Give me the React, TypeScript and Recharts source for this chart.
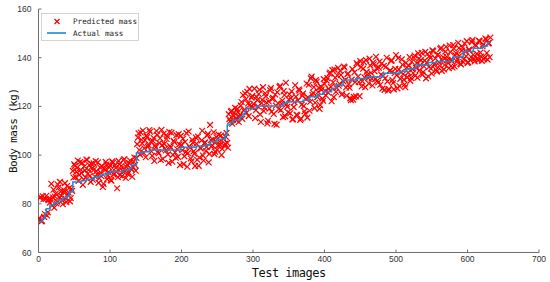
import React from 'react';
import {
  ComposedChart,
  Scatter,
  XAxis,
  YAxis,
} from 'recharts';

// x axis ticks (test image index) and y axis ticks (kg)
const xTicks = [0, 100, 200, 300, 400, 500, 600, 700];
const yTicks = [60, 80, 100, 120, 140, 160];

// actual mass is a staircase: image index where a step starts + its value
const actualStart = [
  0, 5, 9, 11, 16, 22, 28, 34, 39, 43, 48, 60, 67, 78, 86, 95, 100, 118, 128, 130,
  137, 145, 155, 199, 221, 235, 240, 249, 261, 264, 268, 272, 282, 286, 289, 291, 305, 342, 347, 370,
  379, 390, 398, 410, 417, 426, 445, 459, 482, 505, 515, 528, 545, 556, 580, 594, 608, 621, 628, 633,
];
const actualMass = [
  72.6, 74, 76, 78, 79.5, 80.5, 81.6, 82.5, 83, 85, 89, 89.5, 90.1, 91, 91.8, 92.5, 93.2, 93.9, 94.6, 95.9,
  101, 101.4, 102.1, 103.2, 103.7, 104.1, 105.5, 106.5, 108.3, 112.4, 113.5, 114.4, 115.8, 117, 118.5, 119.2, 120.2, 121.3, 121.9, 122.5,
  124, 125, 126, 127.5, 128.8, 130.8, 131.5, 132.2, 133.6, 134.3, 135.5, 137, 138, 138.4, 140.4, 142.5, 143.9, 144.8, 146.2, 146.2,
];

// predicted mass for even test images (index 0, 2, 4 ...)
const predictedEven = [
  // 0 - 14
  73.5, 82.5, 72.8, 83.1, 74.6, 82.0, 75.2, 81.5,
  // 16 - 46
  80.5, 88.2, 82.6, 78.4, 84.1, 80.9, 86.7, 89.0, 83.2, 79.8, 85.5, 82.1, 87.3, 84.6, 81.0, 86.2,
  // 48 - 136
  93.5, 96.2, 91.0, 94.8, 89.4, 97.1, 92.6, 87.8, 95.3, 90.7, 98.0, 93.9, 91.5, 96.4, 89.9, 94.2,
  97.5, 92.1, 88.6, 95.0, 91.3, 86.9, 94.5, 97.2, 90.2, 93.0, 95.8, 89.5, 96.9, 92.4, 94.7, 86.4,
  97.6, 91.8, 95.5, 93.3, 98.4, 90.6, 96.0, 92.9, 97.8, 94.1, 95.2, 99.0, 93.6,
  // 138 - 264
  104.5, 108.9, 100.2, 106.3, 110.1, 102.8, 99.1, 107.4, 104.0, 109.6, 101.5, 105.8, 97.6, 103.2, 108.3, 100.7,
  106.9, 110.4, 98.4, 104.6, 101.9, 107.8, 96.8, 103.7, 109.2, 100.1, 105.3, 98.9, 102.4, 108.6, 95.9, 104.2,
  106.7, 99.5, 101.2, 95.2, 109.7, 103.0, 97.4, 105.1, 100.6, 107.2, 98.1, 95.6, 102.9, 106.0, 99.8, 104.9,
  101.7, 108.1, 97.0, 112.4, 103.5, 106.4, 100.4, 105.7, 102.2, 108.4, 104.3, 100.0, 106.8, 103.8, 107.5, 105.0,
  // 266 - 300
  116.8, 113.9, 118.2, 114.5, 117.3, 115.1, 119.0, 113.6, 116.5, 121.8, 124.7, 118.7, 122.9, 126.0, 116.0, 120.8,
  123.6, 119.6,
  // 302 - 400
  127.3, 118.4, 122.6, 125.1, 116.7, 121.4, 127.9, 119.5, 124.2, 113.0, 122.0, 126.6, 117.8, 123.5, 112.8, 120.3,
  125.8, 118.9, 128.4, 121.1, 115.6, 124.7, 129.7, 119.9, 122.8, 117.2, 126.2, 114.8, 121.7, 124.0, 116.3, 127.0,
  114.4, 120.7, 125.3, 118.0, 123.1, 115.4, 128.9, 121.9, 132.2, 125.6, 119.3, 130.8, 123.8, 127.6, 120.5, 126.9,
  122.3, 129.2,
  // 402 - 520
  124.5, 131.6, 127.2, 133.9, 122.1, 129.8, 135.1, 126.0, 132.7, 128.5, 134.6, 124.9, 130.4, 136.0, 127.8, 133.2,
  129.1, 123.3, 131.0, 122.8, 134.0, 124.1, 137.2, 130.0, 138.6, 128.2, 135.5, 131.9, 139.0, 133.0, 129.4, 136.8,
  131.4, 138.0, 134.4, 140.4, 130.6, 135.9, 128.9, 137.6, 132.5, 126.8, 136.3, 130.2, 127.1, 134.8, 138.9, 129.6,
  133.6, 141.1, 127.4, 135.2, 131.3, 139.3, 133.3, 129.0, 137.9, 132.0, 136.6, 130.5,
  // 522 - 632
  138.3, 133.7, 140.9, 135.8, 131.8, 139.6, 136.9, 142.0, 134.1, 138.8, 131.5, 141.5, 136.2, 139.9, 133.5, 142.7,
  137.4, 135.0, 141.0, 138.1, 143.6, 134.6, 140.2, 137.0, 144.5, 139.1, 135.7, 142.3, 138.6, 145.2, 136.4, 141.8,
  139.4, 144.0, 137.5, 142.9, 138.2, 145.8, 140.6, 137.9, 143.3, 139.0, 146.4, 141.2, 138.5, 144.9, 139.8, 147.0,
  142.1, 138.7, 145.5, 140.0, 147.6, 139.2, 146.0, 148.3,
];

// predicted mass for odd test images (index 1, 3, 5 ...)
const predictedOdd = [
  // 1 - 15
  74.2, 82.8, 73.0, 81.9, 75.8, 83.3, 76.5, 82.2,
  // 17 - 47
  81.7, 79.3, 85.8, 83.0, 80.2, 87.9, 82.9, 85.0, 81.4, 84.8, 88.5, 80.7, 83.8, 86.5, 82.4, 85.3,
  // 49 - 137
  90.8, 95.6, 93.2, 97.8, 91.9, 94.0, 96.8, 90.1, 93.7, 98.2, 92.3, 95.9, 89.0, 94.4, 96.6, 91.2,
  93.4, 97.0, 90.5, 92.8, 95.4, 88.2, 93.8, 96.1, 91.6, 94.9, 89.8, 97.4, 92.0, 95.7, 93.1, 90.9,
  96.3, 94.3, 91.4, 97.9, 93.5, 95.1, 92.2, 96.7, 94.6, 91.1, 97.3, 95.9, 98.8,
  // 139 - 265
  107.2, 102.1, 109.3, 104.8, 100.9, 106.1, 108.0, 103.4, 110.3, 105.5, 99.7, 107.0, 103.9, 109.9, 101.3, 105.0,
  98.0, 104.1, 108.8, 102.6, 106.6, 100.3, 109.5, 103.1, 97.3, 105.9, 101.1, 108.2, 99.3, 104.4, 107.9, 102.0,
  96.3, 105.4, 109.0, 100.8, 103.6, 98.6, 106.3, 101.6, 95.5, 104.7, 107.6, 99.0, 102.7, 110.0, 97.8, 105.2,
  103.3, 108.7, 100.5, 106.2, 104.0, 109.4, 101.4, 107.3, 103.9, 105.6, 108.0, 102.5, 106.6, 104.6, 109.1, 103.0,
  // 267 - 301
  114.8, 117.9, 112.9, 116.1, 119.4, 114.2, 117.7, 115.7, 120.3, 114.9, 118.3, 125.3, 117.4, 121.2, 127.2, 119.8,
  124.3, 121.0,
  // 303 - 401
  115.2, 123.9, 120.0, 126.8, 113.6, 122.7, 118.1, 125.4, 121.6, 114.1, 119.1, 127.5, 123.0, 116.9, 124.9, 112.5,
  121.3, 128.0, 118.5, 122.4, 126.3, 115.9, 120.9, 117.6, 125.0, 123.4, 114.6, 119.7, 128.7, 116.6, 122.5, 126.5,
  115.0, 124.4, 120.2, 117.0, 129.4, 123.7, 118.2, 131.5, 124.8, 127.9, 121.5, 130.1, 125.9, 119.0, 128.1, 123.2,
  131.2, 126.4,
  // 403 - 521
  130.6, 125.7, 133.4, 128.0, 134.9, 123.8, 131.8, 127.5, 135.8, 129.3, 132.9, 125.2, 136.4, 130.9, 124.4, 133.5,
  127.7, 122.6, 135.3, 123.9, 129.9, 137.8, 132.3, 124.2, 136.1, 130.3, 138.2, 127.9, 134.2, 131.7, 139.6, 133.8,
  128.6, 137.3, 131.2, 135.7, 129.8, 138.4, 133.1, 127.3, 136.7, 131.6, 140.0, 126.5, 134.5, 138.7, 130.8, 127.0,
  135.4, 132.8, 139.8, 128.3, 134.0, 137.1, 131.0, 127.9, 136.0, 133.9, 140.3, 131.7,
  // 523 - 631
  135.3, 140.1, 132.6, 137.8, 141.8, 134.8, 139.0, 133.0, 136.5, 142.4, 138.0, 132.3, 140.7, 135.5, 143.0, 137.1,
  139.7, 134.3, 141.3, 136.7, 144.1, 138.9, 135.2, 142.5, 140.4, 137.7, 145.0, 139.3, 136.0, 143.8, 141.0, 138.4,
  146.1, 140.8, 137.2, 144.3, 139.5, 142.6, 146.8, 138.1, 143.1, 140.3, 147.3, 139.6, 145.3, 141.6, 138.9, 146.7,
  140.5, 144.7, 139.4, 147.9, 141.9, 145.9, 140.2,
];

const predictedData = [
  ...predictedEven.map((mass, i) => ({ x: i * 2, mass })),
  ...predictedOdd.map((mass, i) => ({ x: i * 2 + 1, mass })),
].sort((a, b) => a.x - b.x);

// staircase points: each step holds its value until the next step starts
const actualData = actualStart.flatMap((x, i) => {
  const pts = [{ x, mass: actualMass[i] }];
  if (i < actualStart.length - 1) pts.push({ x: actualStart[i + 1], mass: actualMass[i] });
  return pts;
});

const RED = '#ff0000';
const BLUE = '#1b8bd3';
const AXIS = '#6e6e6e';
const MONO = '"DejaVu Sans Mono", monospace';
const TICK_FONT = '"Liberation Sans", Arial, sans-serif';

// red "x" marker like matlab's plot(...,'rx')
const Cross = (props: any) => {
  const { cx, cy } = props;
  if (cx == null || cy == null) return null;
  const s = 2.9;
  return (
    <g stroke={RED} strokeWidth={1.2}>
      <line x1={cx - s} y1={cy - s} x2={cx + s} y2={cy + s} />
      <line x1={cx - s} y1={cy + s} x2={cx + s} y2={cy - s} />
    </g>
  );
};

const NoDot = () => <g />;

const LegendBox = () => (
  <div
    style={{
      position: 'absolute',
      left: 41,
      top: 13,
      border: '1px solid #d4d4d4',
      background: '#fff',
      width: 96,
      height: 26,
      fontFamily: MONO,
      fontSize: 7.6,
      color: '#222',
    }}
  >
    <svg width={30} height={26} style={{ position: 'absolute', left: 0, top: 0 }}>
      <g stroke={RED} strokeWidth={1.3}>
        <line x1={12.5} y1={5} x2={17.5} y2={10} />
        <line x1={12.5} y1={10} x2={17.5} y2={5} />
      </g>
      <line x1={5} y1={19} x2={24} y2={19} stroke={BLUE} strokeWidth={1.6} />
    </svg>
    <div style={{ position: 'absolute', left: 31, top: 3, lineHeight: '9px' }}>Predicted mass</div>
    <div style={{ position: 'absolute', left: 31, top: 14.5, lineHeight: '9px' }}>Actual mass</div>
  </div>
);

export default function App() {
  return (
    <div style={{ position: 'absolute', left: 0, top: 0, width: 550, height: 282, background: '#fff' }}>
      <ComposedChart
        width={550}
        height={282}
        margin={{ top: 9, right: 11, left: 0, bottom: 0 }}
      >
        <XAxis
          dataKey="x"
          type="number"
          domain={[0, 700]}
          ticks={xTicks}
          allowDataOverflow
          height={29.5}
          stroke={AXIS}
          tickSize={-3}
          tickMargin={6.5}
          tick={{ fontSize: 8.5, fill: '#333', fontFamily: TICK_FONT }}
          label={{
            value: 'Test images',
            position: 'insideBottom',
            offset: 5,
            style: { fontSize: 12, fontFamily: MONO, letterSpacing: -0.5, fill: '#111' },
          }}
        />
        <YAxis
          dataKey="mass"
          type="number"
          domain={[60, 160]}
          ticks={yTicks}
          allowDataOverflow
          width={38.5}
          stroke={AXIS}
          tickSize={-3}
          tickMargin={10}
          tick={{ fontSize: 8.5, fill: '#333', fontFamily: TICK_FONT }}
          label={{
            value: 'Body mass (kg)',
            angle: -90,
            position: 'insideLeft',
            offset: 0,
            dx: 13,
            style: { textAnchor: 'middle', fontSize: 11, fontFamily: MONO, letterSpacing: -0.6, fill: '#111' },
          }}
        />
        <Scatter
          name="Predicted mass"
          data={predictedData}
          dataKey="mass"
          shape={<Cross />}
          isAnimationActive={false}
        />
        <Scatter
          name="Actual mass"
          data={actualData}
          dataKey="mass"
          line={{ stroke: BLUE, strokeWidth: 1.5 }}
          lineType="joint"
          shape={<NoDot />}
          isAnimationActive={false}
        />
      </ComposedChart>
      <LegendBox />
    </div>
  );
}
